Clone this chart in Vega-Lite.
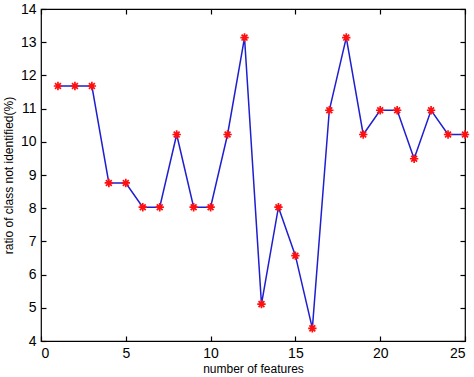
{
  "$schema": "https://vega.github.io/schema/vega-lite/v6.json",
  "autosize": "none",
  "width": 424,
  "height": 332,
  "padding": {"left": 41, "top": 9, "right": 9, "bottom": 36},
  "background": "white",
  "config": {
    "view": {"stroke": "black", "strokeWidth": 1.2},
    "font": "Liberation Sans",
    "axis": {"grid": false, "domain": false, "tickColor": "black", "tickSize": -5, "tickWidth": 1.2, "labelColor": "black", "labelFontSize": 14, "titleColor": "black", "titleFontSize": 12, "titleFontWeight": "normal"}
  },
  "data": {"values": [
    {"n": 1, "r": 11.68}, {"n": 2, "r": 11.68}, {"n": 3, "r": 11.68},
    {"n": 4, "r": 8.76}, {"n": 5, "r": 8.76}, {"n": 6, "r": 8.03},
    {"n": 7, "r": 8.03}, {"n": 8, "r": 10.22}, {"n": 9, "r": 8.03},
    {"n": 10, "r": 8.03}, {"n": 11, "r": 10.22}, {"n": 12, "r": 13.14},
    {"n": 13, "r": 5.11}, {"n": 14, "r": 8.03}, {"n": 15, "r": 6.57},
    {"n": 16, "r": 4.38}, {"n": 17, "r": 10.95}, {"n": 18, "r": 13.14},
    {"n": 19, "r": 10.22}, {"n": 20, "r": 10.95}, {"n": 21, "r": 10.95},
    {"n": 22, "r": 9.49}, {"n": 23, "r": 10.95}, {"n": 24, "r": 10.22},
    {"n": 25, "r": 10.22}
  ]},
  "layer": [
    {
      "mark": {"type": "line", "color": "#1f1fd0", "strokeWidth": 1.5},
      "encoding": {
        "x": {"field": "n", "type": "quantitative", "scale": {"domain": [0, 25], "nice": false}, "axis": {"orient": "bottom", "values": [0, 5, 10, 15, 20, 25], "title": "number of features", "labelPadding": 10, "titlePadding": 3}},
        "y": {"field": "r", "type": "quantitative", "scale": {"domain": [4, 14], "nice": false, "zero": false}, "axis": {"orient": "left", "values": [4, 5, 6, 7, 8, 9, 10, 11, 12, 13, 14], "title": "ratio of class not identified(%)", "labelPadding": 10, "titlePadding": 5}}
      }
    },
    {
      "mark": {"type": "point", "shape": "M-1,0L1,0M0,-1L0,1M-0.7,-0.7L0.7,0.7M-0.7,0.7L0.7,-0.7", "filled": false, "color": "#ff1010", "strokeWidth": 1.7, "size": 70, "opacity": 1},
      "encoding": {
        "x": {"field": "n", "type": "quantitative", "axis": {"orient": "top", "values": [0, 5, 10, 15, 20, 25], "labels": false, "title": null}},
        "y": {"field": "r", "type": "quantitative", "axis": {"orient": "right", "values": [4, 5, 6, 7, 8, 9, 10, 11, 12, 13, 14], "labels": false, "title": null}}
      }
    }
  ],
  "resolve": {"axis": {"x": "independent", "y": "independent"}}
}
